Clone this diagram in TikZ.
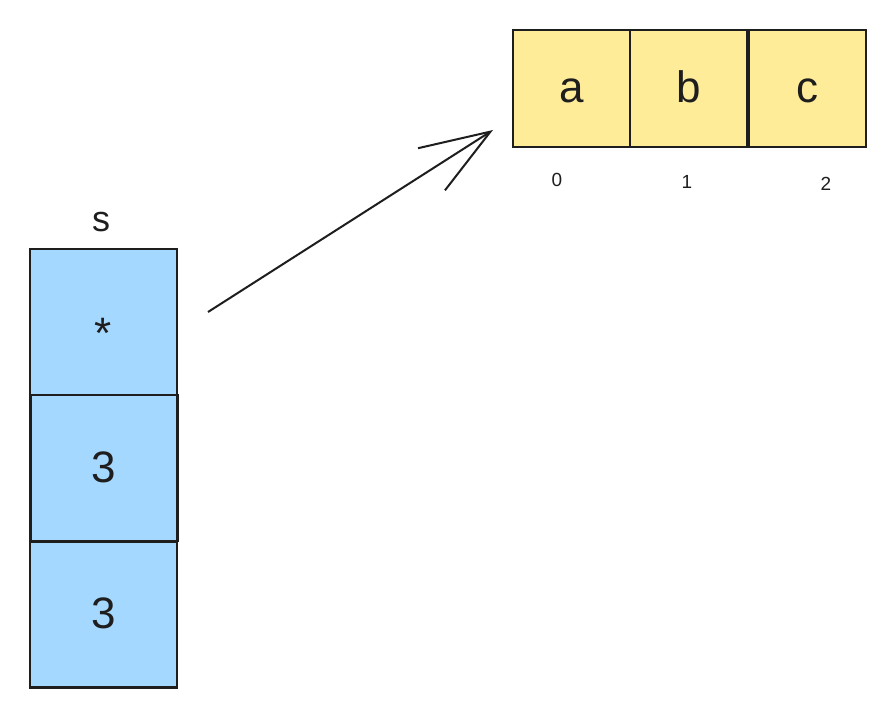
\documentclass[tikz,border=0pt]{standalone}
\usepackage{fontspec}
\setmainfont{Liberation Sans}
\usetikzlibrary{arrows.meta}
\definecolor{cellyellow}{HTML}{FFEC99}
\definecolor{cellblue}{HTML}{A5D8FF}
\definecolor{ink}{HTML}{1E1E1E}
\begin{document}
\begin{tikzpicture}[x=1pt,y=-1pt,
  cellbase/.style={draw=ink,line width=2.3pt,inner sep=0pt,font=\fontsize{44}{44}\selectfont,text=ink,text height=28pt,text depth=0pt},
  cell/.style={cellbase,minimum width=117pt,minimum height=117pt,fill=cellyellow},
  bcell/.style={cellbase,minimum width=147pt,minimum height=146pt,fill=cellblue},
  idx/.style={font=\fontsize{19}{19}\selectfont,text=ink},
  conn/.style={draw=ink,line width=2pt,-{Straight Barb[length=70pt,width=50pt,line width=2pt]}}]
\useasboundingbox (0,0) rectangle (896,718);
% top array
\node[cell] (a) at (571.5,88.5) {a};
\node[cell] (b) at (688.5,88.5) {b};
\node[cell] (c) at (807.5,88.5) {c};
\node[idx] (i0) at (557,180) {0};
\node[idx] (i1) at (687,182) {1};
\node[idx] (i2) at (826,184) {2};
% left stack
\node[font=\fontsize{36}{36}\selectfont,text=ink] (s) at (101,222) {s};
\node[bcell] (n2) at (103.5,614.5) {3};
\node[bcell] (n1) at (104,468) {3};
\node[bcell,text height=52pt] (p) at (103.5,322) {*};
% arrow
\coordinate (from) at (208,312);
\coordinate (tip) at (493,130);
\draw[conn] (from) -- (tip);
\end{tikzpicture}
\end{document}
